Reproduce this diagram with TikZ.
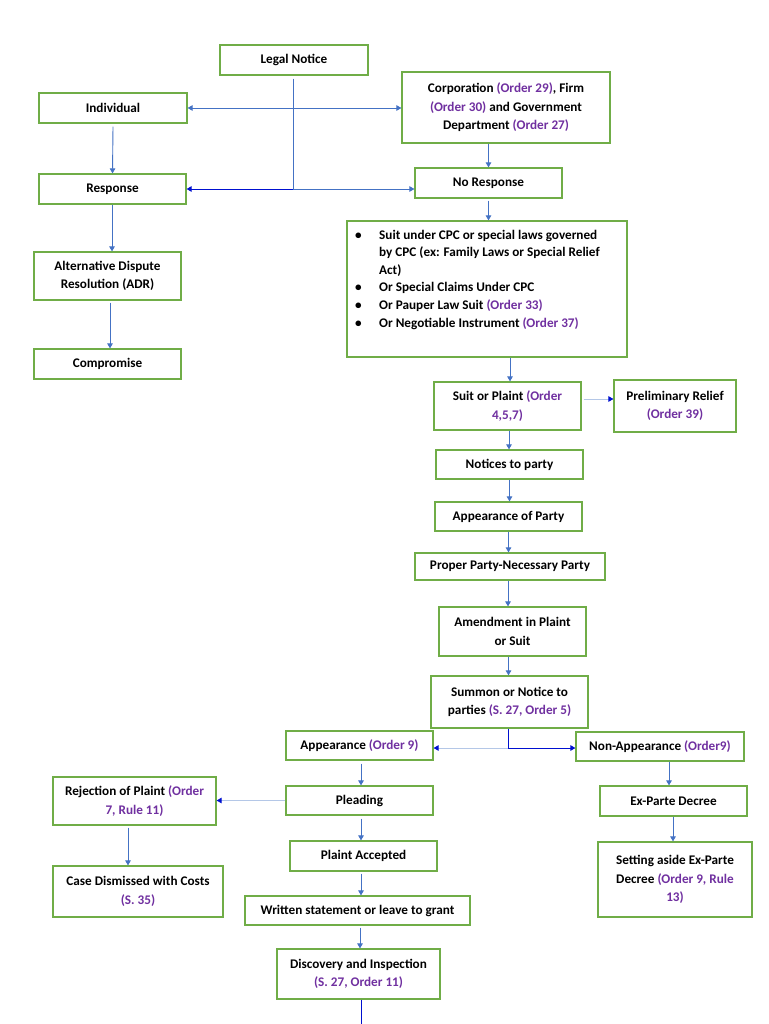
\documentclass[tikz,border=0pt]{standalone}
\usepackage{fontspec}
\setmainfont{Carlito}
\usetikzlibrary{arrows.meta}
\definecolor{boxgreen}{HTML}{70AD47}
\definecolor{arrblue}{HTML}{4472C4}
\definecolor{darkblue}{HTML}{0010D0}
\definecolor{lightblue}{HTML}{B4C7E7}
\definecolor{ordpurple}{HTML}{7030A0}
\newcommand\ordr[1]{\textcolor{ordpurple}{#1}}
\tikzset{
  box/.style={draw=boxgreen, line width=1.2pt, fill=white, align=center, inner sep=2pt,
    font=\fontsize{13.2}{18.5}\selectfont\bfseries},
  tip/.style={-{Triangle[width=5.5pt,length=5pt]}},
  arr/.style={draw=arrblue, line width=0.9pt, tip},
  darr/.style={draw=darkblue, line width=0.9pt, tip},
  larr/.style={draw=lightblue, line width=0.9pt, -{Triangle[width=5.5pt,length=5pt,color=darkblue]}},
  plain/.style={draw=arrblue, line width=0.9pt},
}
\begin{document}
\begin{tikzpicture}[x=1pt,y=-1pt]
\useasboundingbox[fill=white] (0,0) rectangle (768,1024);
% boxes
\node[box, minimum width=148, minimum height=30] (legal) at (294,60) {Legal Notice};
\node[box, minimum width=148, minimum height=30] (ind) at (113,108) {Individual};
\node[box, minimum width=147, minimum height=30] (resp) at (112.5,189) {Response};
\node[box, minimum width=147, minimum height=48] (adr) at (107.5,276) {Alternative Dispute\\Resolution (ADR)};
\node[box, minimum width=147, minimum height=30] (comp) at (107.5,364) {Compromise};
\node[box, minimum width=208, minimum height=71] (corp) at (506,107.5) {Corporation \ordr{(Order 29)}, Firm\\\ordr{(Order 30)} and Government\\Department \ordr{(Order 27)}};
\node[box, minimum width=147, minimum height=30] (noresp) at (488.5,183) {No Response};
\node[box, minimum width=280, minimum height=136] (suit) at (487,289) {};
\node[anchor=north west, inner sep=0pt, align=left, font=\fontsize{13.2}{17.6}\selectfont\bfseries] (suittext) at (355,226.5)
  {\begin{tabular}{@{}p{24pt}@{}l@{}}
   \textbullet & Suit under CPC or special laws governed\\
    & by CPC (ex: Family Laws or Special Relief\\
    & Act)\\
   \textbullet & Or Special Claims Under CPC\\
   \textbullet & Or Pauper Law Suit \ordr{(Order 33)}\\
   \textbullet & Or Negotiable Instrument \ordr{(Order 37)}
   \end{tabular}};
\node[box, minimum width=147, minimum height=48] (plaint) at (507.5,406) {Suit or Plaint \ordr{(Order}\\\ordr{4,5,7)}};
\node[box, minimum width=122, minimum height=52] (prelim) at (675,406) {Preliminary Relief\\\ordr{(Order 39)}};
\node[box, minimum width=147, minimum height=29] (notices) at (509.5,464.5) {Notices to party};
\node[box, minimum width=147, minimum height=29] (appparty) at (508.5,516.5) {Appearance of Party};
\node[box, minimum width=190, minimum height=27] (proper) at (510,566.5) {Proper Party-Necessary Party};
\node[box, minimum width=147, minimum height=49] (amend) at (512.5,631.5) {Amendment in Plaint\\or Suit};
\node[box, minimum width=157, minimum height=52] (summon) at (509.5,702) {Summon or Notice to\\parties \ordr{(S. 27, Order 5)}};
\node[box, minimum width=147, minimum height=29] (app) at (359.5,745.5) {Appearance \ordr{(Order 9)}};
\node[box, minimum width=168, minimum height=29] (nonapp) at (660,746.5) {Non-Appearance \ordr{(Order9)}};
\node[box, minimum width=147, minimum height=29] (plead) at (359.5,800.5) {Pleading};
\node[box, minimum width=163, minimum height=48] (rej) at (134.5,801) {Rejection of Plaint \ordr{(Order}\\\ordr{7, Rule 11)}};
\node[box, minimum width=170, minimum height=51] (case) at (138,891.5) {Case Dismissed with Costs\\\ordr{(S. 35)}};
\node[box, minimum width=147, minimum height=30] (pacc) at (363.5,856) {Plaint Accepted};
\node[box, minimum width=225, minimum height=29] (written) at (357.5,910.5) {Written statement or leave to grant};
\node[box, minimum width=163, minimum height=50] (disc) at (358.5,974) {Discovery and Inspection\\\ordr{(S. 27, Order 11)}};
\node[box, minimum width=147, minimum height=30] (exparte) at (673.5,801) {Ex-Parte Decree};
\node[box, minimum width=154, minimum height=75] (setting) at (675,879.5) {Setting aside Ex-Parte\\Decree \ordr{(Order 9, Rule}\\\ordr{13)}};
\coordinate (bottomend) at (361,1024);
% connectors
\draw[plain] ([xshift=-1pt,yshift=-3pt]legal.south) -- ([xshift=-1pt]legal.south |- resp.east);
\draw[arr, {Triangle[width=5.5pt,length=5pt]}-{Triangle[width=5.5pt,length=5pt]}] (ind.east) -- (ind.east -| corp.west);
\draw[darr] ([xshift=-1pt]legal.south |- resp.east) -- (resp.east);
\draw[arr] ([xshift=-1pt]legal.south |- resp.east) -- (resp.east -| noresp.west);
\draw[arr] ([yshift=-3pt]ind.south) -- ([xshift=-0.5pt]ind.south |- resp.north);
\draw[arr] ([xshift=4.5pt]adr.north |- resp.south) -- ([xshift=4.5pt]adr.north);
\draw[arr] ([xshift=2.5pt,yshift=-2pt]adr.south) -- ([xshift=2.5pt]adr.south |- comp.north);
\draw[arr] (noresp.north |- corp.south) -- (noresp.north);
\draw[arr] ([yshift=-2pt]noresp.south) -- (noresp.south |- suit.north);
\draw[arr] ([xshift=2.5pt]plaint.north |- suit.south) -- ([xshift=2.5pt]plaint.north);
\draw[larr] ([xshift=2pt,yshift=7pt]plaint.east) -- ([yshift=7pt]plaint.east -| prelim.west);
\draw[arr] ([xshift=1.5pt]plaint.south) -- ([xshift=1.5pt]plaint.south |- notices.north);
\draw[arr] (notices.south) -- (notices.south |- appparty.north);
\draw[arr] (appparty.south) -- (appparty.south |- proper.north);
\draw[arr] ([xshift=-2pt]proper.south) -- ([xshift=-2pt]proper.south |- amend.north);
\draw[arr] ([xshift=-4pt]amend.south) -- ([xshift=-4pt]amend.south |- summon.north);
\draw[draw=darkblue, line width=0.9pt] ([xshift=-1.5pt]summon.south) -- ([xshift=-1.5pt]summon.south |- 0,748) coordinate (fork);
\draw[darr] (fork) -- (fork -| nonapp.west);
\draw[larr] (fork) -- (fork -| app.east);
\draw[arr] ([xshift=1.5pt,yshift=-3pt]app.south) -- ([xshift=1.5pt]app.south |- plead.north);
\draw[larr] (plead.west) -- (plead.west -| rej.east);
\draw[arr] ([xshift=1.5pt,yshift=-3pt]plead.south) -- ([xshift=1.5pt]plead.south |- pacc.north);
\draw[arr] ([xshift=-6.5pt,yshift=-2pt]rej.south) -- ([xshift=-6.5pt]rej.south |- case.north);
\draw[arr] ([xshift=-2.5pt,yshift=-2pt]pacc.south) -- ([xshift=-2.5pt]pacc.south |- written.north);
\draw[arr] ([xshift=2.5pt,yshift=-2pt]written.south) -- ([xshift=2.5pt]written.south |- disc.north);
\draw[draw=darkblue, line width=0.9pt] (disc.south -| bottomend) -- (bottomend);
\draw[arr] ([xshift=9pt]nonapp.south) -- ([xshift=9pt]nonapp.south |- exparte.north);
\draw[arr] ([xshift=-0.5pt]exparte.south) -- ([xshift=-0.5pt]exparte.south |- setting.north);
\end{tikzpicture}
\end{document}
